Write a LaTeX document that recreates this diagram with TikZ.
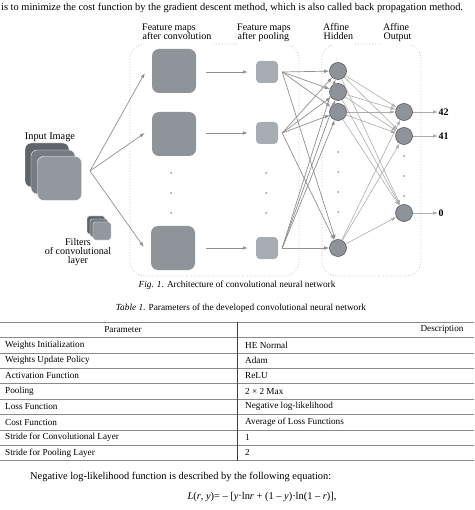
\documentclass[tikz,border=0pt]{standalone}
\usepackage{fontspec}
\setmainfont{Liberation Serif}
\usetikzlibrary{arrows.meta}
\definecolor{convc}{HTML}{8F949A}
\definecolor{poolc}{HTML}{A8ADB3}
\definecolor{nodec}{HTML}{8E9399}
\definecolor{nodeline}{HTML}{55595D}
\definecolor{inback}{HTML}{5E646A}
\definecolor{inmid}{HTML}{767C82}
\definecolor{infront}{HTML}{92989E}
\definecolor{edgec}{HTML}{909090}
\definecolor{edgelight}{HTML}{ADADAD}
\definecolor{boxc}{HTML}{BDBDBD}
\definecolor{rulec}{HTML}{8A8A8A}
\begin{document}
\begin{tikzpicture}[x=1pt,y=-1pt,
  txt/.style={inner sep=0pt,font=\fontsize{10.4}{12}\selectfont},
  labtop/.style={inner sep=0pt,anchor=base west,text depth=0pt,font=\fontsize{10}{12}\selectfont},
  lablow/.style={inner xsep=0.5pt,inner ysep=0pt,fill=white,anchor=base west,text height=5.8pt,text depth=5.5pt,font=\fontsize{10}{12}\selectfont},
  tab/.style={inner sep=0pt,anchor=west,font=\fontsize{9.2}{10}\selectfont},
  captxt/.style={inner sep=0pt,font=\fontsize{9.3}{11}\selectfont},
  filttxt/.style={inner sep=0pt,anchor=base,text height=6pt,text depth=0pt,font=\fontsize{10.1}{12}\selectfont},
  convmap/.style={draw=none,fill=convc,rounded corners=7pt,minimum size=44pt,inner sep=0pt},
  poolmap/.style={draw=none,fill=poolc,rounded corners=4pt,minimum size=22pt,inner sep=0pt},
  inimg/.style={draw=white,line width=0.4pt,rounded corners=6pt,minimum size=44pt,inner sep=0pt},
  filt/.style={draw=white,line width=0.3pt,rounded corners=2.5pt,minimum size=18pt,inner sep=0pt},
  neuron/.style={circle,draw=nodeline,line width=0.6pt,fill=nodec,minimum size=17pt,inner sep=0pt},
  dotm/.style={circle,fill=gray!80,minimum size=2pt,inner sep=0pt},
  arr/.style={draw=edgec,line width=0.7pt,-{Latex[length=5pt,width=3.6pt]}},
  arrl/.style={draw=edgelight,line width=0.6pt,-{Latex[length=5pt,width=3.6pt]}},
  grp/.style={draw=boxc,dotted,line width=0.8pt,rounded corners=15pt},
  outlab/.style={inner sep=0.5pt,anchor=west,font=\bfseries\fontsize{10}{12}\selectfont}
]
\useasboundingbox (0,0) rectangle (474,510);

% introductory line
\node[txt,anchor=base west] (intro) at (1,11) {is to minimize the cost function by the gradient descent method, which is also called back propagation method.};

% group boxes
\draw[grp] (130,44) rectangle (299,276);
\draw[grp] (322,44) rectangle (421,276);

% column labels
\node[labtop] (lconva) at (142,30.4) {Feature maps};
\node[lablow] (lconvb) at (142,39.9) {after convolution};
\node[labtop] (lpoola) at (237,30.4) {Feature maps};
\node[lablow] (lpoolb) at (237,39.9) {after pooling};
\node[labtop] (lhida) at (323,30.4) {Affine};
\node[lablow] (lhidb) at (323,39.9) {Hidden};
\node[labtop] (louta) at (383,30.4) {Affine};
\node[lablow] (loutb) at (383,39.9) {Output};

% input image
\node[inimg,fill=inback] (in1) at (47,165) {};
\node[inimg,fill=inmid] (in2) at (53,172) {};
\node[inimg,fill=infront] (in3) at (59.5,178.5) {};
\node[txt,anchor=base,font=\fontsize{10.3}{12}\selectfont] (linput) at (50,139.5) {Input Image};

% filters
\node[filt,fill=inback] (f1) at (96,225) {};
\node[filt,fill=inmid] (f2) at (99,228) {};
\node[filt,fill=infront] (f3) at (102,231) {};
\node[filttxt] (lfilta) at (78,245.3) {Filters};
\node[filttxt] (lfiltb) at (78,254.3) {of convolutional};
\node[filttxt] (lfiltc) at (78,263.3) {layer};

\coordinate (src) at (90,171);

% convolution maps
\node[convmap] (c1) at (174,71) {};
\node[convmap] (c2) at (174,134) {};
\node[convmap] (c3) at (173,248) {};
\node[dotm] (cd1) at (171,173) {};
\node[dotm] (cd2) at (171,193) {};
\node[dotm] (cd3) at (171,213) {};

% pooling maps
\node[poolmap] (p1) at (267,72) {};
\node[poolmap] (p2) at (267,133) {};
\node[poolmap] (p3) at (267,248) {};
\node[dotm] (pd1) at (266,173) {};
\node[dotm] (pd2) at (266,193) {};
\node[dotm] (pd3) at (266,213) {};

% hidden
\node[neuron] (h1) at (338,71) {};
\node[neuron] (h2) at (338,92) {};
\node[neuron] (h3) at (338,112) {};
\node[neuron] (h4) at (338,248) {};
\node[dotm] (hd1) at (338,152) {};
\node[dotm] (hd2) at (338,172) {};
\node[dotm] (hd3) at (338,192) {};
\node[dotm] (hd4) at (338,212) {};

% output
\node[neuron] (o1) at (404,112) {};
\node[neuron] (o2) at (404,136) {};
\node[neuron] (o3) at (404,213) {};
\node[dotm] (od1) at (404,156) {};
\node[dotm] (od2) at (404,176) {};
\node[dotm] (od3) at (404,196) {};

\node[outlab] (l42) at (438,112) {42};
\node[outlab] (l41) at (438,136) {41};
\node[outlab] (l0) at (438,213) {0};

% input -> conv
\draw[arr] (src) -- ([xshift=-7pt,yshift=-2pt]c1.west);
\draw[arr] (src) -- ([xshift=-7pt,yshift=1pt]c2.west);
\draw[arr] (src) -- ([xshift=-7pt,yshift=1pt]c3.west);

% conv -> pool
\draw[arr] ([xshift=10pt,yshift=-1pt]c1.east) -- ([xshift=-8pt]p1.west);
\draw[arr] ([xshift=10pt,yshift=1pt]c2.east) -- ([xshift=-8pt]p2.west);
\draw[arr] ([xshift=11pt]c3.east) -- ([xshift=-8pt]p3.west);

% pool -> hidden
\foreach \p in {p1,p2,p3}{
  \foreach \h in {h1,h2,h3,h4}{
    \draw[arr] ([xshift=4pt]\p.east) -- (\h);
  }
}

% hidden -> output
\foreach \h in {h1,h2,h3,h4}{
  \foreach \o in {o1,o2,o3}{
    \draw[arrl] (\h) -- (\o);
  }
}

% output -> labels
\draw[arrl] (o1) -- (l42.west);
\draw[arrl] (o2) -- (l41.west);
\draw[arrl] (o3) -- (l0.west);

% captions
\node[captxt,anchor=base] (figcap) at (237,287) {\textit{Fig. 1}. Architecture of convolutional neural network};
\node[captxt,anchor=base] (tabcap) at (241,310) {\textit{Table 1}. Parameters of the developed convolutional neural network};

% table rules
\draw[rulec,line width=1pt] (0,322) -- (474,322);
\foreach \k in {1,...,8}{
  \draw[rulec,line width=0.6pt] (0,{322+15.4*\k}) -- (474,{322+15.4*\k});
}
\draw[rulec,line width=1pt] (0,{322+15.4*9}) -- (474,{322+15.4*9});
\draw[black!75,line width=0.8pt] (237,322) -- (237,{322+15.4*9});

% table text
\node[tab,anchor=center] (hpar) at (123,329.7) {Parameter};
\node[tab,anchor=center] (hdes) at (442,329.7) {Description};
\node[tab] (r1a) at (5,345.1) {Weights Initialization};
\node[tab] (r1b) at (245,345.1) {HE Normal};
\node[tab] (r2a) at (5,360.5) {Weights Update Policy};
\node[tab] (r2b) at (245,360.5) {Adam};
\node[tab] (r3a) at (5,375.9) {Activation Function};
\node[tab] (r3b) at (245,375.9) {ReLU};
\node[tab] (r4a) at (5,391.3) {Pooling};
\node[tab] (r4b) at (245,391.3) {2 × 2 Max};
\node[tab] (r5a) at (5,406.7) {Loss Function};
\node[tab] (r5b) at (245,406.7) {Negative log-likelihood};
\node[tab] (r6a) at (5,422.1) {Cost Function};
\node[tab] (r6b) at (245,422.1) {Average of Loss Functions};
\node[tab] (r7a) at (5,437.5) {Stride for Convolutional Layer};
\node[tab] (r7b) at (245,437.5) {1};
\node[tab] (r8a) at (5,452.9) {Stride for Pooling Layer};
\node[tab] (r8b) at (245,452.9) {2};

% following text
\node[txt,anchor=base west] (para) at (30,479) {Negative log-likelihood function is described by the following equation:};
\node[txt,anchor=base] (eq) at (262,499) {\textit{L}(\textit{r}, \textit{y})= – [\textit{y}·ln\textit{r} + (1 – \textit{y})·ln(1 – \textit{r})],};
\end{tikzpicture}
\end{document}
